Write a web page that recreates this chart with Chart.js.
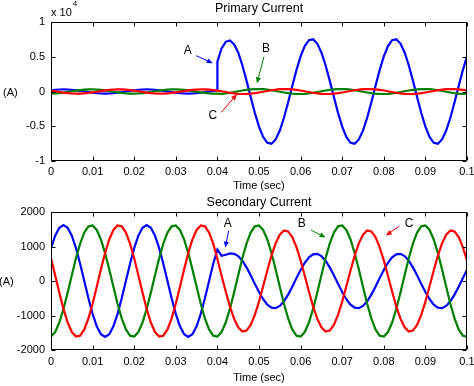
<!DOCTYPE html>
<html><head><meta charset="utf-8">
<script src="https://cdn.jsdelivr.net/npm/chart.js@4.4.1/dist/chart.umd.min.js"></script>
<style>
html,body{margin:0;padding:0;background:#fff;}
#wrap{position:relative;width:474px;height:386px;overflow:hidden;background:#fff;}
canvas{position:absolute;left:0;}
#c1{top:0;} #c2{top:193px;}
</style></head><body>
<div id="wrap"><canvas id="c1" width="474" height="193"></canvas><canvas id="c2" width="474" height="193"></canvas></div>
<script>
// time samples (s); 0.040 appears twice for the switching instant
const time = [0,.001,.002,.003,.004,.005,.006,.007,.008,.009,.010,.011,.012,.013,.014,.015,.016,.017,.018,.019,
.020,.021,.022,.023,.024,.025,.026,.027,.028,.029,.030,.031,.032,.033,.034,.035,.036,.037,.038,.039,
.040,.040,.041,.042,.043,.044,.045,.046,.047,.048,.049,.050,.051,.052,.053,.054,.055,.056,.057,.058,.059,
.060,.061,.062,.063,.064,.065,.066,.067,.068,.069,.070,.071,.072,.073,.074,.075,.076,.077,.078,.079,
.080,.081,.082,.083,.084,.085,.086,.087,.088,.089,.090,.091,.092,.093,.094,.095,.096,.097,.098,.099,.100];

// Primary current (A)
const priA = [176,243,285,300,285,243,176,93,0,-93,-176,-243,-285,-300,-285,-243,-176,-93,0,93,
176,243,285,300,285,243,176,93,0,-93,-176,-243,-285,-300,-285,-243,-176,-93,0,93,
176,4300,6200,7150,7350,6800,5610,3775,1570,-789,-3071,-5052,-6538,-7385,-7508,-6897,-5610,-3775,-1570,789,3071,
5052,6538,7385,7508,6897,5610,3775,1570,-789,-3071,-5052,-6538,-7385,-7508,-6897,-5610,-3775,-1570,789,3071,
5052,6538,7385,7508,6897,5610,3775,1570,-789,-3071,-5052,-6538,-7385,-7508,-6897,-5610,-3775,-1570,789,3071,
5052];
const priB = [-298,-274,-223,-150,-62,31,122,201,260,293,298,274,223,150,62,-31,-122,-201,-260,-293,
-298,-274,-223,-150,-62,31,122,201,260,293,298,274,223,150,62,-31,-122,-201,-260,-293,
-298,-298,-329,-268,-180,-75,38,146,241,312,352,358,329,268,180,75,-38,-146,-241,-312,-352,
-358,-329,-268,-180,-75,38,146,241,312,352,358,329,268,180,75,-38,-146,-241,-312,-352,
-358,-329,-268,-180,-75,38,146,241,312,352,358,329,268,180,75,-38,-146,-241,-312,-352,
-358];
const priC = [122,31,-62,-150,-223,-274,-298,-293,-260,-201,-122,-31,62,150,223,274,298,293,260,201,
122,31,-62,-150,-223,-274,-298,-293,-260,-201,-122,-31,62,150,223,274,298,293,260,201,
122,122,38,-75,-180,-268,-329,-358,-352,-312,-241,-146,-38,75,180,268,329,358,352,312,241,
146,38,-75,-180,-268,-329,-358,-352,-312,-241,-146,-38,75,180,268,329,358,352,312,241,
146,38,-75,-180,-268,-329,-358,-352,-312,-241,-146,-38,75,180,268,329,358,352,312,241,
146];

// Secondary current (A)
const secA = [952,1311,1541,1620,1541,1311,952,501,0,-501,-952,-1311,-1541,-1620,-1541,-1311,-952,-501,0,501,
952,1311,1541,1620,1541,1311,952,501,0,-501,-952,-1311,-1541,-1620,-1541,-1311,-952,-501,0,501,
910,910,730,760,800,786,722,587,395,164,-83,-321,-529,-684,-773,-786,-722,-587,-395,-164,83,
321,529,684,773,786,722,587,395,164,-83,-321,-529,-684,-773,-786,-722,-587,-395,-164,83,
321,529,684,773,786,722,587,395,164,-83,-321,-529,-684,-773,-786,-722,-587,-395,-164,83,
321];
const secB = [-1611,-1480,-1204,-810,-337,169,659,1084,1403,1585,1611,1480,1204,810,337,-169,-659,-1084,-1403,-1585,
-1611,-1480,-1204,-810,-337,169,659,1084,1403,1585,1611,1480,1204,810,337,-169,-659,-1084,-1403,-1585,
-1611,-1611,-1480,-1204,-810,-337,169,659,1084,1403,1585,1611,1480,1204,810,337,-169,-659,-1084,-1403,-1585,
-1611,-1480,-1204,-810,-337,169,659,1084,1403,1585,1611,1480,1204,810,337,-169,-659,-1084,-1403,-1585,
-1611,-1480,-1204,-810,-337,169,659,1084,1403,1585,1611,1480,1204,810,337,-169,-659,-1084,-1403,-1585,
-1611];
const secC = [659,169,-337,-810,-1204,-1480,-1611,-1585,-1403,-1084,-659,-169,337,810,1204,1480,1611,1585,1403,1084,
659,169,-337,-810,-1204,-1480,-1611,-1585,-1403,-1084,-659,-169,337,810,1204,1480,1611,1585,1403,1084,
640,640,154,-306,-735,-1092,-1343,-1462,-1438,-1273,-984,-598,-154,306,735,1092,1343,1462,1438,1273,984,
598,154,-306,-735,-1092,-1343,-1462,-1438,-1273,-984,-598,-154,306,735,1092,1343,1462,1438,1273,984,
598,154,-306,-735,-1092,-1343,-1462,-1438,-1273,-984,-598,-154,306,735,1092,1343,1462,1438,1273,984,
598];

const xTickLabels = ['0','0.01','0.02','0.03','0.04','0.05','0.06','0.07','0.08','0.09','0.1'];
const priYTickLabels = ['-1','-0.5','0','0.5','1'];
const secYTickLabels = ['-2000','-1000','0','1000','2000'];

// arrow annotations, in data units
const priNotes = [
  {text:'A', color:'#0000ff', tx:0.0329, ty:5870, x0:0.0349, y0:5150, x1:0.0389, y1:4070},
  {text:'B', color:'#008000', tx:0.0517, ty:6160, x0:0.0512, y0:5010, x1:0.0495, y1:1180},
  {text:'C', color:'#ff0000', tx:0.0389, ty:-3510, x0:0.0409, y0:-3000, x1:0.0447, y1:-400}
];
const secNotes = [
  {text:'A', color:'#0000ff', tx:0.0425, ty:1660, x0:0.0427, y0:1460, x1:0.0419, y1:970},
  {text:'B', color:'#008000', tx:0.0603, ty:1660, x0:0.0625, y0:1475, x1:0.0660, y1:1260},
  {text:'C', color:'#ff0000', tx:0.0861, ty:1660, x0:0.0837, y0:1590, x1:0.0805, y1:1317}
];

const FONT = '"Liberation Sans", Arial, Helvetica, sans-serif';
Chart.defaults.font.family = FONT;
Chart.defaults.color = '#000';

const framePlugin = {
  id: 'frame',
  afterDatasetsDraw(chart, args, opts) {
    const {ctx, chartArea: a, scales: {x, y}} = chart;
    ctx.save();
    ctx.strokeStyle = '#000'; ctx.lineWidth = 1;
    const L = Math.round(a.left) + 0.5, R = Math.round(a.right) - 0.5;
    const T = Math.round(a.top) + 0.5, B = Math.round(a.bottom) - 0.5;
    ctx.beginPath();
    ctx.rect(L, T, R - L, B - T);
    const tl = 4;
    x.ticks.forEach(t => {
      const px = Math.round(x.getPixelForValue(t.value)) + 0.5;
      ctx.moveTo(px, B); ctx.lineTo(px, B - tl);
      ctx.moveTo(px, T); ctx.lineTo(px, T + tl);
    });
    y.ticks.forEach(t => {
      const py = Math.round(y.getPixelForValue(t.value)) + 0.5;
      ctx.moveTo(L, py); ctx.lineTo(L + tl, py);
      ctx.moveTo(R, py); ctx.lineTo(R - tl, py);
    });
    ctx.stroke();

    // annotations
    (opts.notes || []).forEach(n => {
      const x0 = x.getPixelForValue(n.x0), y0 = y.getPixelForValue(n.y0);
      const x1 = x.getPixelForValue(n.x1), y1 = y.getPixelForValue(n.y1);
      const ang = Math.atan2(y1 - y0, x1 - x0);
      const hl = 6, hw = 2.6;
      ctx.strokeStyle = n.color; ctx.fillStyle = n.color; ctx.lineWidth = 1;
      ctx.beginPath(); ctx.moveTo(x0, y0);
      ctx.lineTo(x1 - Math.cos(ang) * hl * 0.8, y1 - Math.sin(ang) * hl * 0.8); ctx.stroke();
      ctx.beginPath();
      ctx.moveTo(x1, y1);
      ctx.lineTo(x1 - Math.cos(ang) * hl - Math.sin(ang) * hw, y1 - Math.sin(ang) * hl + Math.cos(ang) * hw);
      ctx.lineTo(x1 - Math.cos(ang) * hl + Math.sin(ang) * hw, y1 - Math.sin(ang) * hl - Math.cos(ang) * hw);
      ctx.closePath(); ctx.fill();
      ctx.fillStyle = '#000';
      ctx.font = '12px ' + FONT; ctx.textAlign = 'center'; ctx.textBaseline = 'middle';
      ctx.fillText(n.text, x.getPixelForValue(n.tx), y.getPixelForValue(n.ty));
    });

    // y label
    ctx.fillStyle = '#000';
    ctx.font = '11px ' + FONT; ctx.textAlign = 'left'; ctx.textBaseline = 'middle';
    ctx.fillText(opts.yLabel, opts.yLabelX, (a.top + a.bottom) / 2 + opts.yLabelDy);
    if (opts.exponent) {
      ctx.fillText('x 10', a.left, a.top - 9.5);
      const w = ctx.measureText('x 10').width;
      ctx.font = '8px ' + FONT;
      ctx.fillText(opts.exponent, a.left + w + 1, a.top - 18);
    }
    ctx.restore();
  }
};

function makeChart(id, cfg) {
  const mk = (label, vals, color, order) => ({
    label, data: time.map((t, i) => ({x: t, y: vals[i]})),
    borderColor: color, backgroundColor: color, borderWidth: 2.2,
    pointRadius: 0, tension: 0, fill: false, order
  });
  return new Chart(document.getElementById(id), {
    type: 'line',
    data: { datasets: [
      mk('A', cfg.a, '#0000ff', 3),
      mk('B', cfg.b, '#008000', 2),
      mk('C', cfg.c, '#ff0000', 1)
    ]},
    options: {
      responsive: false, animation: false, devicePixelRatio: 1,
      layout: { padding: {left: 0, right: 7, top: 0, bottom: 0} },
      plugins: {
        legend: {display: false}, tooltip: {enabled: false},
        title: { display: true, fullSize: false, text: cfg.title, color: '#000',
          font: {size: 12.5, weight: 'normal', family: FONT, lineHeight: 1.2}, padding: cfg.titlePad },
        frame: { notes: cfg.notes, yLabel: '(A)', yLabelX: cfg.yLabelX, yLabelDy: cfg.yLabelDy, exponent: cfg.exponent }
      },
      scales: {
        x: {
          type: 'linear', min: 0, max: 0.1,
          grid: {display: false, drawTicks: false}, border: {display: false},
          ticks: { stepSize: 0.01, autoSkip: false, maxRotation: 0, padding: cfg.xTickPad,
            font: {size: 11}, color: '#000', callback: (v, i) => xTickLabels[i] },
          title: { display: true, text: 'Time (sec)', color: '#000', font: {size: 11}, padding: {top: 0, bottom: cfg.xTitlePad} },
          afterFit: s => { s.height = cfg.xHeight; s.paddingLeft = 0; s.paddingRight = 0; }
        },
        y: {
          min: cfg.yMin, max: cfg.yMax,
          grid: {display: false, drawTicks: false}, border: {display: false},
          ticks: { stepSize: cfg.yStep, padding: 6, font: {size: 11}, color: '#000',
            callback: (v, i) => cfg.yLabels[i] },
          afterFit: s => { s.width = 51; }
        }
      }
    },
    plugins: [framePlugin]
  });
}

makeChart('c1', {
  a: priA, b: priB, c: priC, title: 'Primary Current',
  titlePad: {top: 1.2, bottom: 5.8}, xTickPad: 4, xTitlePad: 0.4, xHeight: 32,
  yMin: -10000, yMax: 10000, yStep: 5000, yLabels: priYTickLabels,
  notes: priNotes, yLabelX: 3, yLabelDy: 1.5, exponent: '4'
});
makeChart('c2', {
  a: secA, b: secB, c: secC, title: 'Secondary Current',
  titlePad: {top: 2, bottom: 2}, xTickPad: 5, xTitlePad: 1.8, xHeight: 36,
  yMin: -2000, yMax: 2000, yStep: 1000, yLabels: secYTickLabels,
  notes: secNotes, yLabelX: -1, yLabelDy: 0.5, exponent: null
});
</script>
</body></html>
